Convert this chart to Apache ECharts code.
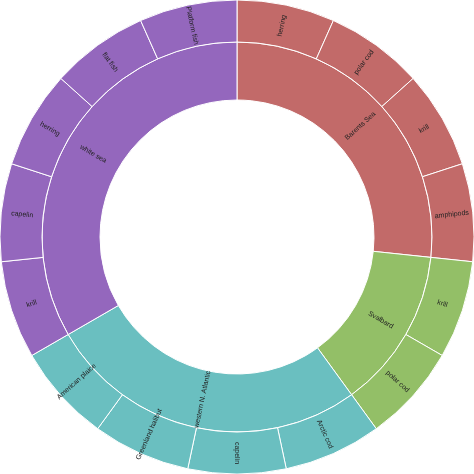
<!DOCTYPE html>
<html>
<head>
<meta charset="utf-8">
<script src="https://cdn.jsdelivr.net/npm/echarts@6/dist/echarts.min.js"></script>
<style>html,body{margin:0;padding:0;background:#fff}#chart{width:474px;height:474px}</style>
</head>
<body>
<div id="chart"></div>
<script>
// regions and their prey
var regions = ['Barents Sea', 'Svalbard', 'western N. Atlantic', 'white sea'];
var regionColors = ['#c26a69', '#93bf67', '#6abfc0', '#9467bd'];
var prey = [
    ['herring', 'polar cod', 'krill', 'amphipods'],
    ['krill', 'polar cod'],
    ['Arctic cod', 'capelin', 'Greenland halibut', 'American plaice'],
    ['krill', 'capelin', 'herring', 'flat fish', 'Platform fish']
];
var preyValues = [
    [1, 1, 1, 1],
    [1, 1],
    [1, 1, 1, 1],
    [1, 1, 1, 1, 1]
];

var data = [];
for (var i = 0; i < regions.length; i++) {
    var children = [];
    for (var j = 0; j < prey[i].length; j++) {
        children.push({name: prey[i][j], value: preyValues[i][j], itemStyle: {color: regionColors[i]}});
    }
    data.push({name: regions[i], itemStyle: {color: regionColors[i]}, children: children});
}

var myChart = echarts.init(document.getElementById('chart'));
var option = {
    animation: false,
    series: [{
        type: 'sunburst',
        center: ['50%', '50%'],
        radius: [137, 237],
        sort: null,
        nodeClick: false,
        data: data,
        itemStyle: {borderColor: '#fff', borderWidth: 1},
        label: {rotate: 'radial', fontSize: 7, color: '#222', fontFamily: 'Liberation Sans'},
        levels: [
            {},
            {r0: 137, r: 195},
            {r0: 195, r: 237}
        ]
    }]
};
myChart.setOption(option);
</script>
</body>
</html>
